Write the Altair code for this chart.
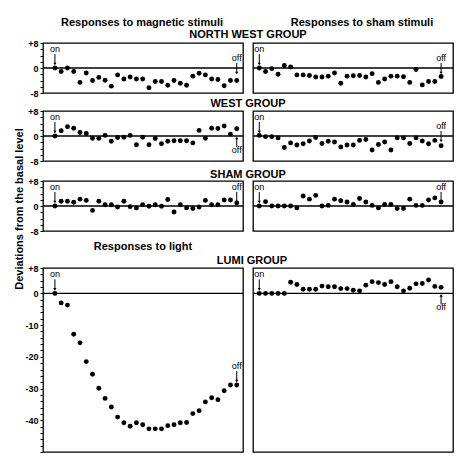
import altair as alt
import pandas as pd

FONT = "Liberation Sans"

minutes = list(range(30))

nw_magnetic = [0, -1.1, 0, -1.1, -4.6, -1.6, -4.0, -3.0, -3.9, -5.8, -2.2, -3.5, -2.9, -3.5, -3.5,
               -6.3, -4.3, -4.3, -5.5, -4.0, -4.9, -5.5, -2.6, -1.7, -2.2, -3.5, -3.7, -5.7, -4.0, -4.0]
nw_sham = [0, -1.1, -0.2, -2.0, 0.8, 0.3, -2.2, -2.2, -2.4, -2.9, -2.9, -2.6, -1.6, -4.9, -2.6,
           -2.5, -2.4, -2.9, -1.8, -4.6, -3.5, -2.6, -2.6, -2.8, -4.6, -0.5, -5.4, -4.3, -4.3, -2.7]
w_magnetic = [0, 1.7, 3.0, 2.5, 1.1, 0.8, -0.7, -0.7, 0.2, -1.7, -0.5, -0.4, 0.2, -2.8, -0.4,
              -2.8, -0.8, -2.5, -1.7, -1.5, -1.5, -1.5, -2.2, 1.8, -0.7, 2.5, 2.4, 3.2, 0.6, 2.3]
w_sham = [0.2, -0.2, -0.2, -0.6, -3.7, -2.2, -2.9, -2.5, -1.6, -0.5, -2.4, -1.7, -1.9, -3.5, -2.9,
          -2.9, -1.4, -1.1, -4.5, -2.7, -1.9, -4.5, -0.6, -0.6, -2.4, -0.6, -1.6, -2.5, -1.4, -3.1]
s_magnetic = [0, 1.5, 1.5, 1.2, 2.2, 1.8, -1.4, 1.5, 0.4, 0.4, -0.3, 1.5, -0.2, -0.6, 0.4,
              -0.1, 0.4, -0.1, 2.1, -1.9, 0.4, -0.6, -0.8, -0.3, 1.8, 0.4, 0.4, 1.9, 1.9, 1.0]
s_sham = [0, 1.4, 0, 0, 0, 0, -0.6, 3.2, 2.2, 3.4, 0, 0.2, 2.2, 1.7, 1.3,
          0.5, 2.4, 1.3, 0.2, -0.6, 0.5, 0.5, -0.8, -0.8, 2.2, 0.2, 0.2, 1.9, 2.6, 1.3]
lumi_light = [0, -3.0, -3.7, -12.9, -15.6, -21.5, -25.5, -29.9, -33.1, -35.8, -39.0, -40.8, -41.9, -40.8, -41.4,
              -42.7, -42.7, -42.7, -41.7, -41.4, -40.8, -40.7, -37.9, -37.0, -34.2, -32.9, -33.5, -30.7, -28.9, -28.9]
lumi_sham = [0, 0, 0, 0, 0, 3.5, 2.8, 1.3, 1.3, 1.3, 2.3, 2.1, 2.1, 1.5, 1.5,
             1.0, 0.8, 2.6, 3.7, 3.4, 2.8, 3.7, 2.1, 0.8, 1.6, 3.0, 3.1, 4.2, 2.2, 1.9]

column_titles = ["Responses to magnetic stimuli", "Responses to sham stimuli"]
group_titles = ["NORTH WEST GROUP", "WEST GROUP", "SHAM GROUP", "LUMI GROUP"]
light_title = "Responses to light"
y_title = "Deviations from the basal level"

small_ticks = [-8, -6, -4, -2, 0, 2, 4, 6, 8]
lumi_ticks = list(range(-50, 9, 2))

# on/off markers: (label, minute index, anchor value, placement)
ann_nw_m = [("on", 0, 0, "above"), ("off", 29, 0, "near")]
ann_nw_s = [("on", 0, 0, "above"), ("off", 29, 0, "near")]
ann_w_m = [("on", 0, 0, "above"), ("off", 29, 0, "below")]
ann_w_s = [("on", 0, 0, "above"), ("off", 29, 0, "near")]
ann_s_m = [("on", 0, 0, "above"), ("off", 29, 0, "above")]
ann_s_s = [("on", 0, 0, "above"), ("off", 29, 0, "above")]
ann_l_m = [("on", 0, 0, "above"), ("off", 29, lumi_light[29], "above")]
ann_l_s = [("on", 0, 0, "above"), ("off", 29, 0, "below")]

PLACE = {
    "above": dict(text=-19, r1=-14, r2=-4, head=-4, shape="triangle-down"),
    "near": dict(text=-10, r1=-5, r2=5, head=5, shape="triangle-down"),
    "below": dict(text=14, r1=11, r2=2, head=2, shape="triangle-up"),
}


def make_axis(kind):
    if kind == "small":
        expr = "datum.value == 8 ? '+8' : datum.value == 0 ? '0' : datum.value == -8 ? '-8' : ''"
        vals = small_ticks
    else:
        expr = ("datum.value == 8 ? '+8' : datum.value == 0 ? '0' : "
                "(datum.value % 10 == 0 && datum.value > -50) ? '-' + (-datum.value) : ''")
        vals = lumi_ticks
    return alt.Axis(values=vals, labelExpr=expr, tickSize=3, tickColor="black", tickWidth=1,
                    domain=False, grid=False, labelFontSize=9, labelFontWeight="bold",
                    labelFont=FONT, labelColor="black", labelPadding=2, labelOverlap=False,
                    title=None)


def panel(values, ydom, xdom, height, axis_kind, ann):
    df = pd.DataFrame({"minute": minutes, "dev": values})
    ys = alt.Scale(domain=ydom, nice=False, zero=False)
    xs = alt.Scale(domain=xdom, nice=False, zero=False)
    ax = make_axis(axis_kind) if axis_kind else None
    X = alt.X("minute:Q", scale=xs, axis=None)
    Y = alt.Y("dev:Q", scale=ys, axis=ax)
    zero = alt.Chart(pd.DataFrame({"minute": [0], "dev": [0]})).mark_rule(
        color="black", strokeWidth=1.3).encode(y=Y)
    pts = alt.Chart(df).mark_circle(size=24, color="black", opacity=1).encode(x=X, y=Y)
    layers = [zero, pts]
    for place, p in PLACE.items():
        rows = [a for a in ann if a[3] == place]
        if not rows:
            continue
        adf = pd.DataFrame({"label": [r[0] for r in rows], "minute": [r[1] for r in rows],
                            "dev": [r[2] for r in rows]})
        base = alt.Chart(adf)
        layers.append(base.mark_text(dy=p["text"], fontSize=9, font=FONT, color="black",
                                     baseline="middle", align="center").encode(x=X, y=Y, text="label:N"))
        layers.append(base.mark_rule(yOffset=p["r1"], y2Offset=p["r2"], color="black",
                                     strokeWidth=1).encode(x=X, y=Y, y2="dev:Q"))
        layers.append(base.mark_point(shape=p["shape"], filled=True, size=10, color="black",
                                      opacity=1, yOffset=p["head"]).encode(x=X, y=Y))
    return alt.layer(*layers).properties(width=200, height=height)


NOVIEW = alt.ViewBackground(strokeOpacity=0)


def text_cell(items, width, height):
    layers = []
    for txt, x, y, size, weight, angle in items:
        layers.append(
            alt.Chart(pd.DataFrame({"t": [txt]})).mark_text(
                fontSize=size, fontWeight=weight, font=FONT, color="black",
                align="center", baseline="middle", angle=angle
            ).encode(text="t:N", x=alt.value(x), y=alt.value(y))
        )
    return alt.layer(*layers).properties(width=width, height=height, view=NOVIEW)


def filler(width, height):
    return alt.Chart(pd.DataFrame({"t": [""]})).mark_text().encode(
        text="t:N", x=alt.value(0), y=alt.value(0)
    ).properties(width=width, height=height, view=NOVIEW)


LX = [-1.9, 30.0]
RX = [-1.0, 30.9]
SY = [-8, 8]
LY = [-50, 8]
C0 = 25

cells = [
    filler(C0, 29),
    text_cell([(column_titles[0], 99, 8.5, 11, "bold", 0),
               (group_titles[0], 205, 21, 11, "bold", 0)], 200, 29),
    text_cell([(column_titles[1], 109, 8.5, 11, "bold", 0)], 200, 29),

    filler(C0, 50),
    panel(nw_magnetic, SY, LX, 50, "small", ann_nw_m),
    panel(nw_sham, SY, RX, 50, None, ann_nw_s),

    filler(C0, 18),
    text_cell([(group_titles[1], 205, 11.3, 11, "bold", 0)], 200, 18),
    filler(200, 18),

    filler(C0, 50),
    panel(w_magnetic, SY, LX, 50, "small", ann_w_m),
    panel(w_sham, SY, RX, 50, None, ann_w_s),

    filler(C0, 20),
    text_cell([(group_titles[2], 205, 13.5, 11, "bold", 0)], 200, 20),
    filler(200, 20),

    text_cell([(y_title, 12, 28, 11, "bold", 270)], C0, 50),
    panel(s_magnetic, SY, LX, 50, "small", ann_s_m),
    panel(s_sham, SY, RX, 50, None, ann_s_s),

    filler(C0, 37),
    text_cell([(light_title, 100, 15.5, 11, "bold", 0),
               (group_titles[3], 209, 29.5, 11, "bold", 0)], 200, 37),
    filler(200, 37),

    filler(C0, 184),
    panel(lumi_light, LY, LX, 184, "lumi", ann_l_m),
    panel(lumi_sham, LY, RX, 184, None, ann_l_s),
]

chart = alt.concat(
    *cells, columns=3, spacing={"row": 0, "column": 10}, bounds="flush", align="each"
).properties(padding=0).configure_view(stroke="black", strokeWidth=1.3)

chart.save("out.html", embed_options={"renderer": "svg", "actions": False})
